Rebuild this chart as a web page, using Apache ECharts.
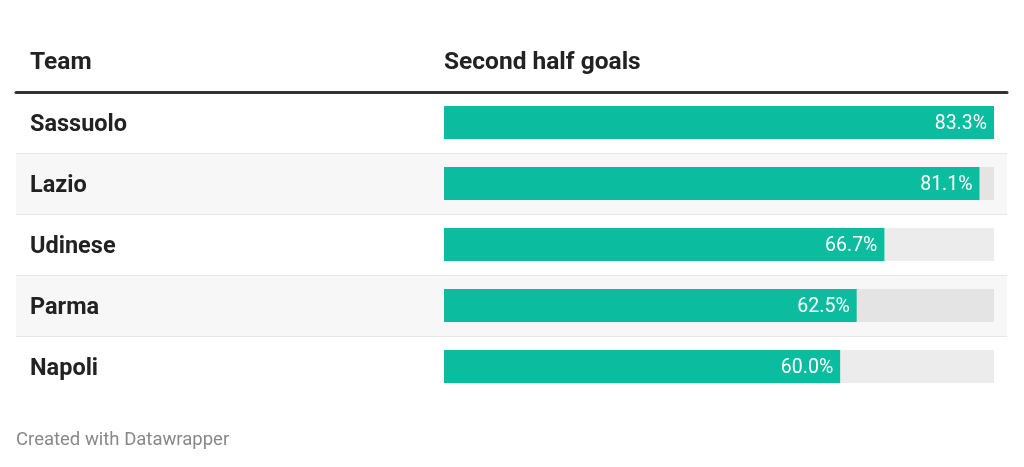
<!DOCTYPE html>
<html>
<head>
<meta charset="utf-8">
<title>Second half goals</title>
<script src="https://cdn.jsdelivr.net/npm/echarts@6/dist/echarts.min.js"></script>
<style>
  html, body { margin: 0; padding: 0; background: #fff; }
  #main { width: 1024px; height: 467px; }
</style>
</head>
<body>
<div id="main"></div>
<script>
// data
const teams = ['Sassuolo', 'Lazio', 'Udinese', 'Parma', 'Napoli'];
const secondHalfGoals = [83.3, 81.1, 66.7, 62.5, 60.0];
const columnTitles = ['Team', 'Second half goals'];
const footerText = 'Created with Datawrapper';

const chart = echarts.init(document.getElementById('main'), null, { renderer: 'canvas' });

const maxVal = Math.max.apply(null, secondHalfGoals);
const font = 'Roboto, "Noto Sans", sans-serif';

chart.setOption({
  animation: false,
  backgroundColor: '#fff',
  title: [
    { text: columnTitles[0], left: 30, top: 50, padding: 0,
      textStyle: { fontFamily: font, fontSize: 24.5, fontWeight: 'bold', color: '#222' } },
    { text: columnTitles[1], left: 444, top: 50, padding: 0,
      textStyle: { fontFamily: font, fontSize: 24.5, fontWeight: 'bold', color: '#222' } },
    { text: footerText, left: 16, top: 431, padding: 0,
      textStyle: { fontFamily: font, fontSize: 18.5, fontWeight: 'normal', color: '#888' } }
  ],
  grid: [
    // full-width table rows
    { left: 16, right: 17, top: 92, height: 305 },
    // bar area
    { left: 444, right: 30, top: 92, height: 305 }
  ],
  xAxis: [
    { gridIndex: 0, type: 'value', position: 'top', min: 0, max: 1,
      axisLine: { show: true, lineStyle: { color: '#333', width: 3 } },
      axisTick: { show: false }, axisLabel: { show: false }, splitLine: { show: false } },
    { gridIndex: 1, type: 'value', min: 0, max: maxVal,
      axisLine: { show: false }, axisTick: { show: false },
      axisLabel: { show: false }, splitLine: { show: false } }
  ],
  yAxis: [
    // rows bottom-up so the extra edge line lands under the header rule
    { gridIndex: 0, type: 'category', data: teams.slice().reverse(),
      axisLine: { show: false }, axisTick: { show: false }, axisLabel: { show: false },
      splitArea: { show: true, areaStyle: { color: ['#ffffff', '#f7f7f7'] } },
      splitLine: { show: true, interval: (i) => i > 0,
        lineStyle: { color: '#e6e6e6', width: 1 } } },
    { gridIndex: 1, type: 'category', data: teams, inverse: true,
      axisLine: { show: false }, axisTick: { show: false },
      axisLabel: { show: true, align: 'left', margin: 414,
        formatter: v => '{t|' + v + '}',
        rich: { t: { padding: [6, 0, 0, 0], fontFamily: font, fontSize: 23.5,
          fontWeight: 'bold', color: '#222' } } }
    }
  ],
  series: [
    {
      type: 'bar',
      xAxisIndex: 1,
      yAxisIndex: 1,
      data: secondHalfGoals,
      barWidth: 33,
      showBackground: true,
      backgroundStyle: { color: 'rgba(0,0,0,0.075)' },
      itemStyle: { color: '#0bbc9f' },
      label: {
        show: true,
        position: 'insideRight',
        distance: 7,
        offset: [0, 2],
        color: '#fff',
        fontFamily: font,
        fontSize: 19.5,
        formatter: p => p.value.toFixed(1) + '%'
      }
    }
  ]
});
</script>
</body>
</html>
